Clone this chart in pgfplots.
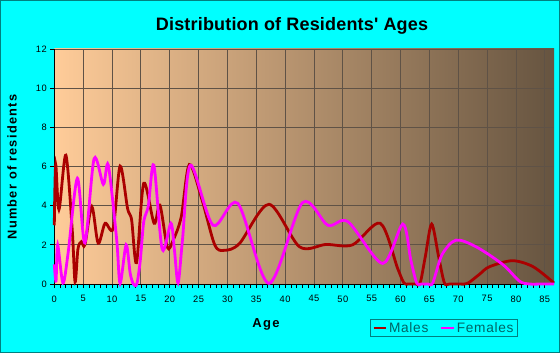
\documentclass[border=0pt]{standalone}
\usepackage{fontspec}
\setmainfont{Liberation Sans}
\newfontfamily\titlef[LetterSpace=1]{Liberation Sans}
\newfontfamily\labf[LetterSpace=10]{Liberation Sans}
\newfontfamily\legf[LetterSpace=5]{Liberation Sans}
\newfontfamily\tickf[LetterSpace=5]{Liberation Sans}
\usepackage{pgfplots}
\pgfplotsset{compat=1.18}
\definecolor{bgcyan}{RGB}{0,255,255}
\definecolor{frameteal}{RGB}{0,128,128}
\definecolor{legtext}{RGB}{0,100,100}
\definecolor{bgL}{RGB}{255,204,153}
\definecolor{bgM}{RGB}{198,156,116}
\definecolor{bgR}{RGB}{102,84,64}
\definecolor{gridc}{RGB}{95,82,70}
\definecolor{males}{RGB}{170,0,0}
\definecolor{females}{RGB}{255,0,255}
\begin{document}
\begin{tikzpicture}
\fill[bgcyan] (0,0) rectangle (560bp,353bp);
\draw[frameteal,line width=1bp] (0.5bp,0.5bp) rectangle (559.5bp,352.5bp);
\begin{axis}[
  at={(54.3bp,69bp)}, anchor=south west,
  scale only axis, width=499.7bp, height=235bp,
  xmin=0, xmax=86.6, ymin=0, ymax=12,
  clip=false,
  axis x line*=bottom, axis y line*=left,
  axis line style={-,black,line width=0.8bp},
  xtick={0,5,...,85}, ytick={0,2,...,12},
  minor x tick num=4,
  tick align=outside,
  major tick length=4bp, minor tick length=4bp,
  tick style={black,line width=0.7bp},
  grid=major,
  major grid style={gridc,line width=0.8bp},
  axis background/.style={left color=bgL, middle color=bgM, right color=bgR},
  /pgf/number format/assume math mode=true,
  tick label style={font=\tickf\fontsize{9.3bp}{10bp}\selectfont, black},
  xticklabel style={yshift=-4bp},
  legend columns=2,
  legend image code/.code={\draw[#1,line width=2bp] (0bp,0bp) -- (12.5bp,0bp);},
  legend style={at={(0.78,-0.187)}, anchor=center, draw=frameteal, fill=bgcyan,
    line width=0.8bp, inner xsep=2bp, inner ysep=1bp,
    font=\legf\fontsize{13.7bp}{15bp}\selectfont, text=legtext,
    /tikz/every even column/.append style={column sep=10bp}},
]
\addplot[males, line width=2.8bp, smooth, tension=0.5] coordinates {
(0,3.0) (0.24,6.1) (0.81,3.8) (2.0,6.58) (3.1,2.8) (3.6,0.1) (4.1,1.8) (4.7,2.16)
(5.3,2.0) (6.5,3.95) (7.6,2.08) (8.8,3.1) (10.2,2.84) (11.4,6.02) (12.7,3.86)
(13.4,3.27) (14.25,1.09) (15.5,5.14) (17.3,3.1) (18.3,4.03) (19.6,1.87) (20.6,2.24)
(22.0,3.43) (23.4,6.1) (25.6,4.3) (27.8,2.0) (29.5,1.72) (32.1,2.07) (37.2,4.07)
(42.5,1.9) (47.1,2.02) (51.7,2.0) (56.5,3.1) (59.5,0.8) (60.6,0.05) (61.4,0.0)
(62.6,0.0) (63.4,0.05) (64.3,1.4) (65.4,3.06) (66.6,1.4) (67.6,0.06) (68.5,0.0)
(70.2,0.0) (71.6,0.03) (73.7,0.5) (75.4,0.88) (79.4,1.19) (83.0,0.88) (86.6,0.05)
};
\addlegendentry{Males}
\addplot[females, line width=2.8bp, smooth, tension=0.5] coordinates {
(0,1.0) (0.3,0.15) (0.58,2.0) (1.5,0.05) (2.4,1.6) (4.0,5.4) (5.3,2.1)
(6.9,6.4) (8.5,5.09) (9.35,6.07) (10.8,2.3) (11.4,0.03) (12.45,2.0) (13.15,0.55)
(13.7,0.0) (14.3,0.0) (14.9,1.2) (15.5,3.18) (16.3,4.0) (17.25,6.07) (18.7,1.77)
(20.2,3.1) (20.8,1.8) (21.45,0.05) (22.2,2.2) (23.6,6.07) (27.5,3.0) (31.8,4.12)
(37.2,0.03) (43.0,4.15) (47.4,3.0) (50.9,3.18) (56.9,1.05) (60.4,3.06) (61.8,1.2)
(62.8,0.06) (63.6,0.0) (64.8,0.0) (65.6,0.06) (67.2,1.5) (69.6,2.24) (73.1,1.9)
(77.7,1.0) (80.6,0.15) (82.3,0.0) (84.5,0.0) (86.6,0.0)
};
\addlegendentry{Females}
\end{axis}
\node[anchor=base, font=\titlef\bfseries\fontsize{18bp}{20bp}\selectfont] at (292bp,322.5bp) {Distribution of Residents' Ages};
\node[font=\labf\bfseries\fontsize{13bp}{15bp}\selectfont] at (266bp,29bp) {Age};
\node[rotate=90, font=\labf\bfseries\fontsize{12.8bp}{15bp}\selectfont] at (12bp,186bp) {Number of residents};
\pgfresetboundingbox
\path (0,0) rectangle (560bp,353bp);
\end{tikzpicture}
\end{document}
